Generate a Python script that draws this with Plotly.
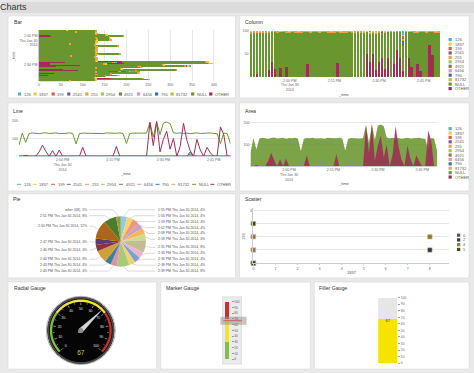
import math
import pandas as pd
import plotly.graph_objects as go

W, H = 474, 373
FONT = "Liberation Sans"

# ---------------- data ----------------
TIMES = pd.date_range("2014-01-30 13:47", periods=64, freq="min")
TICK_TIMES = ["2014-01-30 14:00", "2014-01-30 14:15", "2014-01-30 14:30", "2014-01-30 14:45"]
TICK_TEXT = ["2:00 PM<br>Thu Jan 30<br>2014", "2:15 PM", "2:30 PM", "2:45 PM"]
BAR_TICK_TIMES = ["2014-01-30 14:00", "2014-01-30 14:30"]
BAR_TICK_TEXT = ["2:00 PM<br>Thu Jan 30<br>2014", "2:30 PM"]

SERIES = ["126", "1837", "199", "2541", "255", "2954", "4921", "6456", "790", "81732", "NULL", "OTHER"]
COLORS = ["#5ea8d8", "#f2c744", "#d9633b", "#7b5a8c", "#f0a23a", "#a5c75a",
          "#8b7a47", "#e48fb4", "#3f6fa8", "#c9b74d", "#6a962f", "#9c2f52"]

V_126 = [0, 0, 0, 0, 0, 0, 0, 0, 0, 0, 0, 0, 0, 0, 0, 0,
         0, 0, 0, 0, 0, 0, 0, 0, 0, 0, 0, 0, 0, 0, 0, 0,
         0, 0, 0, 0, 0, 0, 0, 0, 3, 0, 0, 0, 2, 0, 0, 0,
         0, 0, 0, 22, 0, 0, 0, 0, 0, 0, 0, 0, 0, 0, 0, 0]
V_1837 = [1, 0, 0, 1, 0, 0, 1, 0, 0, 0, 1, 0, 0, 1, 0, 0,
          1, 0, 0, 0, 1, 0, 0, 1, 0, 0, 0, 1, 0, 0, 1, 0,
          0, 0, 1, 0, 0, 0, 1, 4, 3, 5, 4, 4, 5, 3, 2, 0,
          1, 0, 0, 2, 0, 1, 0, 0, 1, 0, 0, 1, 0, 0, 1, 0]
V_199 = [0, 0, 0, 0, 0, 0, 0, 0, 0, 0, 0, 0, 0, 0, 0, 0,
         0, 0, 0, 0, 0, 0, 0, 0, 0, 0, 0, 0, 0, 0, 0, 0,
         0, 0, 0, 0, 0, 0, 0, 0, 1, 0, 0, 0, 0, 0, 0, 0,
         0, 0, 0, 6, 0, 0, 0, 0, 0, 0, 0, 0, 0, 0, 0, 0]
V_2541 = [0, 0, 0, 0, 0, 0, 0, 0, 0, 0, 0, 0, 0, 0, 0, 0,
          0, 0, 0, 0, 0, 0, 0, 0, 0, 0, 0, 0, 0, 0, 0, 0,
          0, 0, 0, 0, 0, 0, 0, 0, 0, 0, 0, 0, 2, 0, 0, 0,
          0, 0, 0, 12, 0, 0, 0, 0, 0, 0, 0, 0, 0, 0, 0, 0]
V_255 = [2, 3, 2, 2, 3, 2, 3, 2, 2, 3, 2, 2, 3, 2, 2, 3,
         2, 3, 2, 2, 3, 2, 2, 3, 2, 2, 3, 2, 3, 2, 2, 3,
         2, 2, 3, 2, 2, 3, 2, 4, 3, 4, 3, 4, 4, 3, 3, 2,
         3, 2, 2, 3, 2, 3, 2, 2, 3, 2, 2, 3, 2, 3, 2, 2]
V_2954 = [0, 0, 0, 0, 0, 1, 0, 0, 0, 0, 0, 0, 0, 0, 0, 0,
          0, 0, 0, 0, 1, 0, 0, 0, 0, 0, 0, 0, 0, 0, 0, 0,
          0, 0, 0, 1, 0, 0, 0, 0, 0, 0, 0, 0, 0, 2, 0, 0,
          0, 0, 0, 0, 0, 0, 0, 1, 0, 0, 0, 0, 0, 0, 0, 0]
V_4921 = [0, 0, 0, 0, 0, 0, 0, 0, 0, 0, 0, 0, 0, 0, 0, 0,
          0, 0, 0, 0, 0, 0, 0, 0, 0, 0, 0, 0, 0, 0, 0, 0,
          0, 0, 0, 0, 0, 0, 0, 0, 0, 0, 1, 0, 0, 0, 0, 0,
          0, 0, 0, 0, 0, 0, 0, 0, 0, 0, 0, 0, 0, 0, 0, 0]
V_6456 = [0, 0, 0, 0, 0, 0, 0, 0, 0, 0, 0, 0, 0, 0, 0, 0,
          0, 0, 0, 0, 0, 0, 0, 0, 0, 0, 0, 0, 0, 0, 0, 0,
          0, 0, 0, 0, 0, 0, 0, 0, 0, 0, 0, 0, 0, 0, 0, 0,
          0, 0, 0, 3, 0, 0, 0, 0, 0, 0, 0, 0, 0, 0, 0, 0]
V_790 = [0, 0, 0, 0, 0, 0, 0, 0, 0, 0, 0, 0, 0, 0, 0, 0,
         0, 0, 0, 0, 0, 0, 0, 0, 0, 0, 0, 0, 0, 0, 0, 0,
         0, 0, 0, 0, 0, 0, 0, 0, 0, 0, 0, 0, 0, 0, 0, 0,
         0, 0, 0, 25, 0, 0, 0, 0, 0, 0, 0, 0, 0, 0, 0, 0]
V_81732 = [0, 0, 0, 0, 0, 0, 0, 0, 0, 0, 0, 0, 1, 0, 0, 0,
           0, 0, 0, 0, 0, 0, 0, 0, 0, 0, 0, 0, 0, 0, 1, 0,
           0, 0, 0, 0, 0, 0, 0, 0, 0, 1, 0, 0, 0, 0, 0, 0,
           0, 0, 1, 0, 0, 0, 0, 0, 0, 0, 0, 0, 0, 0, 0, 0]
V_NULL = [62, 130, 78, 128, 131, 129, 127, 130, 132, 128, 129, 131, 127, 130, 129, 131,
          128, 70, 127, 130, 129, 131, 128, 130, 129, 127, 131, 130, 128, 129, 131, 128,
          72, 127, 130, 129, 131, 128, 130, 190, 108, 192, 122, 186, 192, 184, 132, 129,
          131, 128, 130, 127, 129, 131, 128, 130, 129, 131, 128, 127, 72, 130, 128, 70]
V_OTHER = [0, 0, 6, 0, 0, 0, 25, 62, 28, 0, 32, 0, 35, 0, 0, 0,
           0, 0, 0, 50, 0, 0, 0, 0, 0, 0, 0, 0, 0, 55, 0, 0,
           0, 0, 0, 0, 0, 0, 0, 190, 60, 195, 25, 95, 140, 40, 100, 0,
           55, 185, 90, 30, 0, 95, 35, 0, 50, 20, 0, 0, 165, 120, 0, 0]

VALUES = {"126": V_126, "1837": V_1837, "199": V_199, "2541": V_2541, "255": V_255,
          "2954": V_2954, "4921": V_4921, "6456": V_6456, "790": V_790,
          "81732": V_81732, "NULL": V_NULL, "OTHER": V_OTHER}

BAR_TICKS = [0, 50, 100, 150, 200, 250, 300, 350, 400]

PIE_LABELS = ["1:55 PM Thu Jan 30 2014", "1:56 PM Thu Jan 30 2014", "1:59 PM Thu Jan 30 2014",
              "2:02 PM Thu Jan 30 2014", "2:08 PM Thu Jan 30 2014", "2:18 PM Thu Jan 30 2014",
              "2:31 PM Thu Jan 30 2014", "2:33 PM Thu Jan 30 2014", "2:36 PM Thu Jan 30 2014",
              "2:38 PM Thu Jan 30 2014", "2:39 PM Thu Jan 30 2014", "2:40 PM Thu Jan 30 2014",
              "2:43 PM Thu Jan 30 2014", "2:44 PM Thu Jan 30 2014", "2:46 PM Thu Jan 30 2014",
              "2:47 PM Thu Jan 30 2014", "2:50 PM Thu Jan 30 2014", "2:51 PM Thu Jan 30 2014",
              "other (48)"]
PIE_VALUES = [4, 4, 4, 4, 4, 4, 8, 4, 4, 4, 8, 4, 4, 8, 4, 4, 12, 8, 3]
PIE_COLORS = ["#8fcbe6", "#f6d66a", "#ec9a76", "#caa0c8", "#f7b55e", "#cfdc8c", "#c4bc92",
              "#e6b7cc", "#7f9fd2", "#efd176", "#a9c97a", "#d993ad", "#3f7f98", "#cfa035",
              "#8c3048", "#5b3c6c", "#ad6518", "#4d7b29", "#8ea04f"]

SCATTER_NAMES = ["0", "2", "4", "5"]
SCATTER_COLORS = ["#5d4b5f", "#27365a", "#8a7a3c", "#3b4a1c"]
SCATTER_X = [[0], [0, 8], [0, 0, 8], [0]]
SCATTER_Y = [[0], [0, 1], [1, 2, 2], [3]]
SCATTER_XTICKS = [0, 1, 2, 3, 4, 5, 6, 7, 8]
SCATTER_YTICKS = [0, 1, 2, 3, 4]

GAUGE_VALUE = 67
GAUGE_BANDS = [0, 30, 70, 100]
BAND_COLORS = ["#7fc241", "#f1e13a", "#c6302b"]
GAUGE_TICKS = [0, 10, 20, 30, 40, 50, 60, 70, 80, 90, 100]


# ---------------- helpers ----------------
def X(p):
    return p / W


def Y(p):
    return 1 - p / H


shapes = []
annotations = []


def text(x, y, s, size=4.0, color="#555", xanchor="left", yanchor="middle", angle=0):
    annotations.append(dict(x=X(x), y=Y(y), xref="paper", yref="paper", text=s, showarrow=False,
                            xanchor=xanchor, yanchor=yanchor, textangle=angle, borderpad=0,
                            font=dict(family=FONT, size=size, color=color)))


def rect(x0, y0, x1, y1, fill, line="rgba(0,0,0,0)", lw=0, layer="below"):
    shapes.append(dict(type="rect", xref="paper", yref="paper", x0=X(x0), x1=X(x1), y0=Y(y1), y1=Y(y0),
                       fillcolor=fill, line=dict(color=line, width=lw), layer=layer))


def rgba(hexc, a):
    h = hexc.lstrip("#")
    return "rgba(%d,%d,%d,%.2f)" % (int(h[0:2], 16), int(h[2:4], 16), int(h[4:6], 16), a)


fig = go.Figure()

# page background / header / panels
rect(0, 0, 474, 11, "#dcdcdc")
text(-2.5, 5.5, "Charts", size=9, color="#333")
PANELS = [(7, 14, 235, 97), (239, 14, 469, 97), (7, 102, 235, 191), (239, 102, 469, 191),
          (7, 194, 235, 279), (239, 194, 469, 279), (7, 283, 156, 371), (160, 283, 310, 371),
          (314, 283, 469, 371)]
for p in PANELS:
    rect(*p, "#ffffff", "#d8d8d8", 0.6)
TITLES = [("Bar", 12, 20), ("Column", 244, 20), ("Line", 11, 110), ("Area", 244, 110),
          ("Pie", 11, 199), ("Scatter", 244, 199), ("Radial Gauge", 12, 289),
          ("Marker Gauge", 164, 289), ("Filler Gauge", 318, 289)]
for t, x, y in TITLES:
    text(x, y, t, size=5.2, color="#333")

NMS = 60000
totals = [sum(VALUES[s][i] for s in SERIES) for i in range(len(TIMES))]

# ---------------- Bar (horizontal, stacked) ----------------
for name in reversed(SERIES):
    c = COLORS[SERIES.index(name)]
    fig.add_trace(go.Bar(y=TIMES, x=VALUES[name], orientation="h", width=0.88 * NMS,
                         marker=dict(color=c, line=dict(width=0)), xaxis="x", yaxis="y",
                         showlegend=False, hoverinfo="skip"))

# ---------------- Column (stacked 100%) ----------------
for name in reversed(SERIES):
    c = COLORS[SERIES.index(name)]
    pct = [v / t * 100 for v, t in zip(VALUES[name], totals)]
    fig.add_trace(go.Bar(x=TIMES, y=pct, width=0.86 * NMS,
                         marker=dict(color=c, line=dict(width=0)), xaxis="x2", yaxis="y2",
                         showlegend=False, hoverinfo="skip"))

# ---------------- Line ----------------
for name, c in zip(SERIES, COLORS):
    fig.add_trace(go.Scatter(x=TIMES, y=VALUES[name], mode="lines", line=dict(color=c, width=1),
                             xaxis="x3", yaxis="y3", showlegend=False, hoverinfo="skip"))

# ---------------- Area ----------------
for name, c in zip(SERIES, COLORS):
    fig.add_trace(go.Scatter(x=TIMES, y=VALUES[name], mode="lines", line=dict(color=c, width=0),
                             fill="tozeroy", fillcolor=rgba(c, 0.88),
                             xaxis="x4", yaxis="y4", showlegend=False, hoverinfo="skip"))

# ---------------- Scatter ----------------
for nm, c, xs, ys in zip(SCATTER_NAMES, SCATTER_COLORS, SCATTER_X, SCATTER_Y):
    fig.add_trace(go.Scatter(x=xs, y=ys, mode="markers", cliponaxis=False,
                             marker=dict(symbol="square", size=4.5, color=c,
                                         line=dict(color="#d9c27a", width=0.6)),
                             xaxis="x5", yaxis="y5", showlegend=False, hoverinfo="skip"))

# ---------------- Pie ----------------
PCX, PCY, PR = 120, 242, 25.5
fig.add_trace(go.Pie(values=PIE_VALUES, labels=PIE_LABELS, sort=False, direction="clockwise",
                     rotation=0, textinfo="none", marker=dict(colors=PIE_COLORS, line=dict(width=0)),
                     domain=dict(x=[X(PCX - PR), X(PCX + PR)], y=[Y(PCY + PR), Y(PCY - PR)]),
                     showlegend=False, hoverinfo="skip"))

tot = sum(PIE_VALUES)
cum = 0
right, left = [], []
for lab, v in zip(PIE_LABELS, PIE_VALUES):
    a = (cum + v / 2) / tot * 2 * math.pi
    cum += v
    item = dict(ideal=PCY - (PR + 7) * math.cos(a), ex=PCX + PR * math.sin(a), ey=PCY - PR * math.cos(a),
                s=math.sin(a), txt="%s, %d%%" % (lab, round(v / tot * 100 + 0.01)))
    (right if math.sin(a) >= 0 else left).append(item)


def spread(items, gap=6.0, lo=210.0, hi=272.0):
    items.sort(key=lambda d: d["ideal"])
    ys = [d["ideal"] for d in items]
    for i in range(len(ys)):
        ys[i] = max(ys[i], lo if i == 0 else ys[i - 1] + gap)
    for i in range(len(ys) - 1, -1, -1):
        ys[i] = min(ys[i], hi if i == len(ys) - 1 else ys[i + 1] - gap)
    for d, y in zip(items, ys):
        d["ly"] = y


spread(right)
spread(left)
for side, items in ((1, right), (-1, left)):
    for d in items:
        tx = 156 if side == 1 else 87
        kx = d["ex"] + side * 5
        path = "M %f %f L %f %f L %f %f" % (X(d["ex"]), Y(d["ey"]), X(kx), Y(d["ly"]),
                                            X(tx - side * 1.5), Y(d["ly"]))
        shapes.append(dict(type="path", xref="paper", yref="paper", path=path,
                           line=dict(color="#b5b5b5", width=0.5)))
        text(tx, d["ly"], d["txt"], size=3.5, color="#555", xanchor="left" if side == 1 else "right")

# ---------------- Radial gauge ----------------
def ang(v):
    return 225 - v * 2.7


fig.add_trace(go.Scatterpolar(r=[0.975] * 361, theta=list(range(361)), mode="lines",
                              line=dict(color="#4a4a4a", width=2.2), subplot="polar",
                              showlegend=False, hoverinfo="skip"))
for lo, hi, c in zip(GAUGE_BANDS[:-1], GAUGE_BANDS[1:], BAND_COLORS):
    fig.add_trace(go.Scatterpolar(r=[0.885] * (hi - lo + 1), theta=[ang(v) for v in range(lo, hi + 1)],
                                  mode="lines", line=dict(color=c, width=2.4), subplot="polar",
                                  showlegend=False, hoverinfo="skip"))
tr, tt = [], []
for v in range(0, 101, 5):
    r0 = 0.75 if v % 10 == 0 else 0.79
    tr += [r0, 0.83, None]
    tt += [ang(v), ang(v), None]
fig.add_trace(go.Scatterpolar(r=tr, theta=tt, mode="lines", line=dict(color="#dddddd", width=0.6),
                              subplot="polar", showlegend=False, hoverinfo="skip"))
fig.add_trace(go.Scatterpolar(r=[0.64] * len(GAUGE_TICKS), theta=[ang(v) for v in GAUGE_TICKS],
                              mode="text", text=[str(v) for v in GAUGE_TICKS],
                              textfont=dict(family=FONT, size=3.4, color="#e0e0e0"),
                              subplot="polar", showlegend=False, hoverinfo="skip"))
na = ang(GAUGE_VALUE)
fig.add_trace(go.Scatterpolar(r=[0.07, 0.88, 0.07, 0.1, 0.07], theta=[na + 90, na, na - 90, na + 180, na + 90],
                              mode="lines", fill="toself", fillcolor="#d6d6d6",
                              line=dict(color="#d6d6d6", width=0.3), subplot="polar",
                              showlegend=False, hoverinfo="skip"))
fig.add_trace(go.Scatterpolar(r=[0], theta=[0], mode="markers", marker=dict(size=5, color="#8a8a8a"),
                              subplot="polar", showlegend=False, hoverinfo="skip"))
fig.add_trace(go.Scatterpolar(r=[0.68], theta=[270], mode="text", text=[str(GAUGE_VALUE)],
                              textfont=dict(family=FONT, size=6.5, color="#c9cf45"),
                              subplot="polar", showlegend=False, hoverinfo="skip"))
shapes.append(dict(type="circle", xref="paper", yref="paper", x0=X(45.5), x1=X(114.5), y0=Y(366.5),
                   y1=Y(297.5), line=dict(color="#9a9a9a", width=0.8), layer="above"))

# ---------------- Marker gauge ----------------
rect(222, 298, 241, 366, "#ebebeb", "#d4d4d4", 0.6)
for lo, hi, c in zip(GAUGE_BANDS[:-1], GAUGE_BANDS[1:], BAND_COLORS):
    fig.add_trace(go.Bar(x=[0.268], y=[hi - lo], width=0.16, marker=dict(color=c, line=dict(width=0)),
                         xaxis="x6", yaxis="y6", showlegend=False, hoverinfo="skip"))
fig.add_trace(go.Scatter(x=[0.03, 0.97], y=[GAUGE_VALUE, GAUGE_VALUE], mode="lines",
                         line=dict(color="rgba(150,150,150,0.55)", width=8),
                         xaxis="x6", yaxis="y6", showlegend=False, hoverinfo="skip"))
fig.add_trace(go.Scatter(x=[0.14, 0.8], y=[GAUGE_VALUE, GAUGE_VALUE], mode="lines",
                         line=dict(color="#d03a3a", width=0.7),
                         xaxis="x6", yaxis="y6", showlegend=False, hoverinfo="skip"))

# ---------------- Filler gauge ----------------
fig.add_trace(go.Bar(x=[0], y=[GAUGE_VALUE], width=1, marker=dict(color="#f6e300", line=dict(width=0)),
                     xaxis="x7", yaxis="y7", showlegend=False, hoverinfo="skip"))
fig.add_trace(go.Bar(x=[0], y=[100 - GAUGE_VALUE], width=1,
                     marker=dict(color="#e6e6e6", line=dict(width=0)),
                     xaxis="x7", yaxis="y7", showlegend=False, hoverinfo="skip"))
fig.add_trace(go.Scatter(x=[0], y=[GAUGE_VALUE], mode="text", text=[str(GAUGE_VALUE)],
                         textposition="bottom center", textfont=dict(family=FONT, size=4, color="#333"),
                         xaxis="x7", yaxis="y7", showlegend=False, hoverinfo="skip", cliponaxis=False))

# ---------------- manual legends ----------------
def h_legend(x0, yc, line_swatch):
    x = x0
    for name, c in zip(SERIES, COLORS):
        if line_swatch:
            shapes.append(dict(type="line", xref="paper", yref="paper", x0=X(x), x1=X(x + 4),
                               y0=Y(yc), y1=Y(yc), line=dict(color=c, width=1)))
            tx = x + 5.7
            step = 8.3
        else:
            rect(x, yc - 1.6, x + 3.2, yc + 1.6, c, layer="above")
            tx = x + 4.6
            step = 8.1
        text(tx, yc, name, size=4.0, color="#555")
        x += step + 2.5 * len(name)


def v_legend(x0, y0, dy, names, colors):
    for i, (name, c) in enumerate(zip(names, colors)):
        yc = y0 + dy * i
        rect(x0, yc - 1.6, x0 + 3.2, yc + 1.6, c, layer="above")
        text(x0 + 5, yc, name, size=4.0, color="#555")


h_legend(17, 93, False)
h_legend(16, 184.3, True)
v_legend(448.5, 38, 4.5, SERIES, COLORS)
v_legend(448.5, 128, 4.45, SERIES, COLORS)
v_legend(457, 235.7, 4.8, SCATTER_NAMES, SCATTER_COLORS)

# axis titles
text(12, 55, "_time", size=4, color="#555", xanchor="center", angle=-90)
text(344, 93, "_time", size=4, color="#555", xanchor="center")
text(125, 173, "_time", size=4, color="#555", xanchor="center")
text(344, 183, "_time", size=4, color="#555", xanchor="center")
text(243, 237, "199", size=4, color="#555", xanchor="center", angle=-90)
text(352, 273.5, "1837", size=4, color="#555", xanchor="center")

# ---------------- axes ----------------
TF = dict(family=FONT, size=3.6, color="#666")
base = dict(tickfont=TF, zeroline=False, showgrid=False, ticks="", fixedrange=True)
GRID = "#e6e6e6"

layout_axes = dict(
    xaxis=dict(base, domain=[X(38), X(231)], anchor="y", range=[0, 440], tickvals=BAR_TICKS,
               showgrid=True, gridcolor=GRID, gridwidth=0.5),
    yaxis=dict(base, domain=[Y(80), Y(28)], anchor="x", type="date",
               range=["2014-01-30 14:50:30", "2014-01-30 13:46:30"],
               tickvals=BAR_TICK_TIMES, ticktext=BAR_TICK_TEXT, showline=True, linecolor="#cccccc",
               linewidth=0.6),
    xaxis2=dict(base, domain=[X(249), X(440)], anchor="y2", type="date",
                range=["2014-01-30 13:46:30", "2014-01-30 14:50:30"],
                tickvals=TICK_TIMES, ticktext=TICK_TEXT),
    yaxis2=dict(base, domain=[Y(76), Y(29)], anchor="x2", range=[0, 100], tickvals=[50, 100]),
    xaxis3=dict(base, domain=[X(18), X(230)], anchor="y3", type="date",
                range=["2014-01-30 13:47", "2014-01-30 14:50"],
                tickvals=TICK_TIMES, ticktext=TICK_TEXT, showline=True, linecolor="#cccccc",
                linewidth=0.6),
    yaxis3=dict(base, domain=[Y(156), Y(119)], anchor="x3", range=[0, 205], tickvals=[100, 200],
                showgrid=True, gridcolor=GRID, gridwidth=0.5),
    xaxis4=dict(base, domain=[X(250), X(437)], anchor="y4", type="date",
                range=["2014-01-30 13:47", "2014-01-30 14:50"],
                tickvals=TICK_TIMES, ticktext=TICK_TEXT, showline=True, linecolor="#cccccc",
                linewidth=0.6),
    yaxis4=dict(base, domain=[Y(166), Y(121)], anchor="x4", range=[0, 205], tickvals=[100, 200],
                showgrid=True, gridcolor=GRID, gridwidth=0.5),
    xaxis5=dict(base, domain=[X(253), X(449)], anchor="y5", range=[0, 8.87], tickvals=SCATTER_XTICKS,
                showline=True, linecolor="#cccccc", linewidth=0.6, ticks="outside", ticklen=1.5,
                tickcolor="#cccccc", tickwidth=0.5),
    yaxis5=dict(base, domain=[Y(264), Y(208)], anchor="x5", range=[0, 4.2], tickvals=SCATTER_YTICKS,
                showgrid=True, gridcolor=GRID, gridwidth=0.5, showline=True, linecolor="#cccccc",
                linewidth=0.6),
    xaxis6=dict(base, domain=[X(219), X(247)], anchor="y6", range=[0, 1], visible=False),
    yaxis6=dict(base, domain=[Y(361), Y(303)], anchor="free", position=X(230), side="right",
                range=[0, 100], tickvals=GAUGE_TICKS, ticks="outside", ticklen=2,
                tickcolor="#999999", tickwidth=0.5, tickfont=dict(family=FONT, size=3.3, color="#666")),
    xaxis7=dict(base, domain=[X(378), X(397)], anchor="y7", range=[-0.5, 0.5], visible=False),
    yaxis7=dict(base, domain=[Y(365), Y(299)], anchor="x7", side="right", range=[0, 100],
                tickvals=GAUGE_TICKS, ticks="outside", ticklen=2, tickcolor="#999999", tickwidth=0.5,
                tickfont=dict(family=FONT, size=3.3, color="#666")),
)

fig.update_layout(
    width=W, height=H, autosize=False,
    margin=dict(l=0, r=0, t=0, b=0, pad=0),
    paper_bgcolor="#e9e9e9", plot_bgcolor="rgba(0,0,0,0)",
    barmode="stack", showlegend=False, hovermode=False,
    font=dict(family=FONT, size=4, color="#555"),
    polar=dict(domain=dict(x=[X(46), X(114)], y=[Y(366), Y(298)]), bgcolor="#050505",
               radialaxis=dict(visible=False, range=[0, 1], showgrid=False),
               angularaxis=dict(visible=False, rotation=0, direction="counterclockwise",
                                showgrid=False, showline=False)),
    shapes=shapes, annotations=annotations,
    **layout_axes,
)

fig.write_html("out.html", config={"displayModeBar": False},
               post_script="document.body.style.margin='0px';document.body.style.overflow='hidden';")
